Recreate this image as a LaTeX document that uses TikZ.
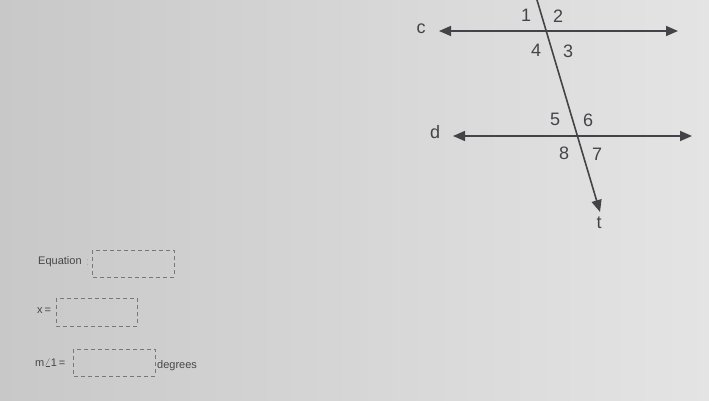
\documentclass[tikz,border=0pt]{standalone}
\usepackage{fontspec}
\setmainfont{Liberation Sans}
\usetikzlibrary{arrows.meta}
\definecolor{bgL}{RGB}{200,200,200}
\definecolor{bgR}{RGB}{228,228,228}
\definecolor{ink}{RGB}{68,68,72}
\definecolor{boxc}{RGB}{120,120,120}
\definecolor{txt}{RGB}{70,70,70}
\tikzset{
  geoline/.style={draw=ink, line width=1.6pt, -{Triangle[length=12pt,width=10pt]}},
  bothline/.style={draw=ink, line width=1.6pt, {Triangle[length=12pt,width=10pt]}-{Triangle[length=12pt,width=10pt]}},
  lab/.style={text=ink, font=\fontsize{18}{20}\selectfont, inner sep=0pt},
  ansbox/.style={draw=boxc, line width=0.8pt, dash pattern=on 4pt off 3pt, fill=none},
  small/.style={text=txt, font=\fontsize{11}{13}\selectfont, inner sep=0pt},
}
\begin{document}
\begin{tikzpicture}[x=1pt,y=-1pt]
\shade[left color=bgL, right color=bgR] (0,0) rectangle (709,401);
\useasboundingbox (0,0) rectangle (709,401);
% lines
\coordinate (cL) at (439,31);
\coordinate (cR) at (678,31);
\coordinate (dL) at (453,136);
\coordinate (dR) at (692,136);
\coordinate (tTop) at (537,0);
\coordinate (tEnd) at (600,212);
\draw[bothline] (cL) -- (cR);
\draw[bothline] (dL) -- (dR);
\draw[geoline] (tTop) -- (tEnd);
% labels
\node[lab] (lc) at (421,29) {c};
\node[lab] (ld) at (435,132) {d};
\node[lab] (lt) at (599,223) {t};
\node[lab] (l1) at (526,15) {1};
\node[lab] (l2) at (558,16) {2};
\node[lab] (l4) at (536,50) {4};
\node[lab] (l3) at (568,51) {3};
\node[lab] (l5) at (555,119) {5};
\node[lab] (l6) at (588,120) {6};
\node[lab] (l8) at (564,153) {8};
\node[lab] (l7) at (597,154) {7};
% answer area
\node[small, anchor=west] (eq) at (38,262) {Equation};
\node[small, anchor=west, text=boxc!60] (colon) at (86,263) {:};
\draw[ansbox] (92,250) rectangle (174,277);
\node[small, anchor=west] (xeq) at (37,311) {x\,=};
\draw[ansbox] (56,298) rectangle (137,326);
\node[small, anchor=west] (meq) at (35,363) {m$\angle$1\,=};
\draw[ansbox] (73,349) rectangle (155,376);
\node[small, anchor=west] (deg) at (157,366) {degrees};
\end{tikzpicture}
\end{document}
